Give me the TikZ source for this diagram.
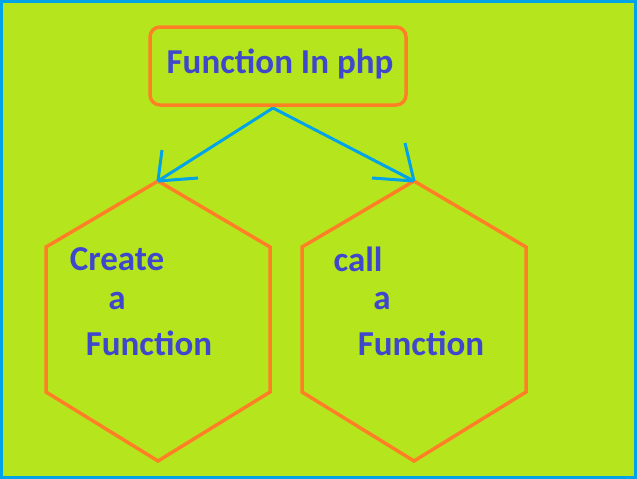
\documentclass[tikz,border=0pt]{standalone}
\usepackage{fontspec}
\setmainfont{Carlito}
\definecolor{bg}{HTML}{B5E61D}
\definecolor{cy}{HTML}{00A2E8}
\definecolor{og}{HTML}{FF7F27}
\definecolor{tb}{HTML}{3F48CC}
\begin{document}
\begin{tikzpicture}[x=1pt,y=-1pt,
  lbl/.style={font=\bfseries\fontsize{35}{40}\selectfont,text=tb,inner sep=0pt},
  ol/.style={draw=og,line width=3.5pt},
  ar/.style={draw=cy,line width=3pt}]
\fill[bg] (0,0) rectangle (637,479);
\draw[cy,line width=3pt] (1.5,1.5) rectangle (635.5,477.5);
\node[ol,rounded corners=10pt,minimum width=256pt,minimum height=78pt] (top) at (278,66) {};
\node[lbl] (tt) at (280,64) {Function In php};
\draw[ol,line join=miter] (158,181)--(270,247)--(270,392)--(158,461)--(46,392)--(46,247)--cycle;
\draw[ol] (414,181)--(526,247)--(526,392)--(414,461)--(302,392)--(302,247)--cycle;
\coordinate (src) at (273,108);
\coordinate (lt) at (158,181);
\coordinate (rt) at (414,181);
\draw[ar] (src)--(lt);
\draw[ar] (src)--(rt);
\draw[ar] (lt)--(162,150);\draw[ar] (lt)--(198,178);
\draw[ar] (rt)--(405,143);\draw[ar] (rt)--(372,178);
\node[lbl] (l1) at (117,259) {Create};
\node[lbl] (l2) at (117,301) {a};
\node[lbl] (l3) at (149,343) {Function};
\node[lbl] (r1) at (358,259) {call};
\node[lbl] (r2) at (382,301) {a};
\node[lbl] (r3) at (421,343) {Function};
\end{tikzpicture}
\end{document}
